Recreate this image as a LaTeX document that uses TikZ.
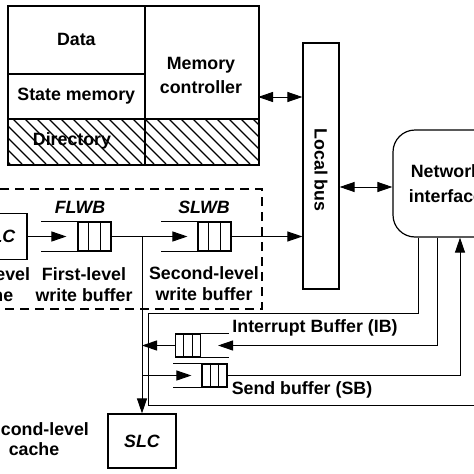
\documentclass[tikz,border=0pt]{standalone}
\usepackage{fontspec}
\setmainfont{Liberation Sans}
\usetikzlibrary{arrows.meta,calc}
\begin{document}
\begin{tikzpicture}[x=1pt,y=-1pt,line width=1pt,
  every node/.style={font=\fontsize{17.8}{21}\selectfont\bfseries,inner sep=0pt},
  arr/.style={-{Triangle[length=15pt,width=10pt]}},
  darr/.style={{Triangle[length=15pt,width=10pt]}-{Triangle[length=15pt,width=10pt]}},
  cell/.style={draw,line width=1.6pt,anchor=north west},
  boxx/.style={draw,line width=1.2pt},
  buf/.style={draw,line width=1.1pt,minimum width=33pt,minimum height=29pt},
  sbuf/.style={draw,line width=1.1pt,minimum width=25pt,minimum height=23pt},
  grp/.style={draw,dash pattern=on 9pt off 6pt,line width=1.2pt},
  lbl/.style={align=center}
]
\useasboundingbox (0,0) rectangle (474,474);
\clip (0,0) rectangle (474,474);

% memory block
\begin{scope}
\clip (7,118) rectangle (258,164);
\foreach \i in {-60,-48,...,264} \draw[line width=1.1pt] (\i,118) -- (\i+46,164);
\end{scope}
\node[cell,minimum width=137pt,minimum height=68pt] (data) at (7,5) {Data};
\node[cell,minimum width=137pt,minimum height=45pt] (state) at (7,73) {State memory};
\node[cell,minimum width=114pt,minimum height=113pt] (mc) at (144,5) {};
\node[lbl] (mctext) at (201,75) {Memory\\[3pt]controller};
\node[cell,minimum width=137pt,minimum height=46pt] (dir) at (7,118) {};
\node (dirtext) at (72,141) {Directory};
\node[cell,minimum width=114pt,minimum height=46pt] (dir2) at (144,118) {};

% local bus
\node[boxx,minimum width=36pt,minimum height=246pt] (bus) at (321,166) {};
\node[rotate=-90] (bustext) at (321,170) {Local bus};

% network interface
\node[boxx,rounded corners=22pt,minimum width=106pt,minimum height=107pt,lbl] (ni) at (446,183.5) {Network\\[4pt]interface};

\coordinate (m1) at (258,97);
\draw[darr] (m1) -- (m1 -| bus.west);
\draw[darr] (bus.east |- 0,187) -- (ni.west |- 0,187);

% dashed group
\draw[grp] (-10,189) rectangle (262,309);

% FLC
\node[boxx,minimum width=58pt,minimum height=46pt] (flc) at (-2,236.5) {\itshape FLC};
\node[lbl] (flcl) at (-12,284.5) {First-level\\cache};

% FLWB
\node[buf] (flwb) at (94.5,236.5) {};
\foreach \f in {1,2} \draw ($(flwb.north west)!\f/3!(flwb.north east)$) -- ($(flwb.south west)!\f/3!(flwb.south east)$);
\draw (flwb.north west) -- ++(-36,0);
\draw (flwb.south west) -- ++(-36,0);
\node (flwbt) at (80,207) {\itshape FLWB};
\node[lbl] (flwbl) at (84,285) {First-level\\write buffer};
\draw[arr] (flc.east) -- ($(flwb.west)+(-11,0)$);

% SLWB
\node[buf] (slwb) at (214.5,236.5) {};
\foreach \f in {1,2} \draw ($(slwb.north west)!\f/3!(slwb.north east)$) -- ($(slwb.south west)!\f/3!(slwb.south east)$);
\draw (slwb.north west) -- ++(-36,0);
\draw (slwb.south west) -- ++(-36,0);
\node (slwbt) at (204,207) {\itshape SLWB};
\node[lbl] (slwbl) at (204,284) {Second-level\\write buffer};

\coordinate (j) at (142,236.5);
\draw (flwb.east) -- (j);
\draw[arr] (j) -- ($(slwb.west)+(-10,0)$);
\draw[arr] (slwb.east) -- (slwb.east -| bus.west);

% SLC
\node[boxx,minimum width=68pt,minimum height=54pt] (slc) at (142,441) {\itshape SLC};
\node[lbl] (slcl) at (34,439) {Second-level\\[-1pt]cache};
\draw[arr] (j) -- (slc.north);

% IB
\node[sbuf] (ib) at (188,345.5) {};
\foreach \f in {1,2} \draw ($(ib.north west)!\f/3!(ib.north east)$) -- ($(ib.south west)!\f/3!(ib.south east)$);
\draw (ib.north east) -- ++(28,0);
\draw (ib.south east) -- ++(28,0);
\node (ibt) at (315,328) {Interrupt Buffer (IB)};
\draw[arr] ($(ni.south)+(-9,0)$) |- ($(ib.east)+(17,0)$);
\draw[arr] (ib.west) -- (ib.west -| j);

% SB
\node[sbuf] (sb) at (214.5,375.5) {};
\foreach \f in {1,2} \draw ($(sb.north west)!\f/3!(sb.north east)$) -- ($(sb.south west)!\f/3!(sb.south east)$);
\draw (sb.north west) -- ++(-28,0);
\draw (sb.south west) -- ++(-28,0);
\node (sbt) at (302,390) {Send buffer (SB)};
\draw[arr] (sb.west -| j) -- ($(sb.west)+(-10,0)$);
\draw[arr] (sb.east) -| ($(ni.south)+(14,0)$);

% outer loop
\coordinate (lp) at (148,313);
\coordinate (lpend) at (480,405);
\draw ($(ni.south)+(-28,0)$) |- (lp) |- (lpend);
\end{tikzpicture}
\end{document}
